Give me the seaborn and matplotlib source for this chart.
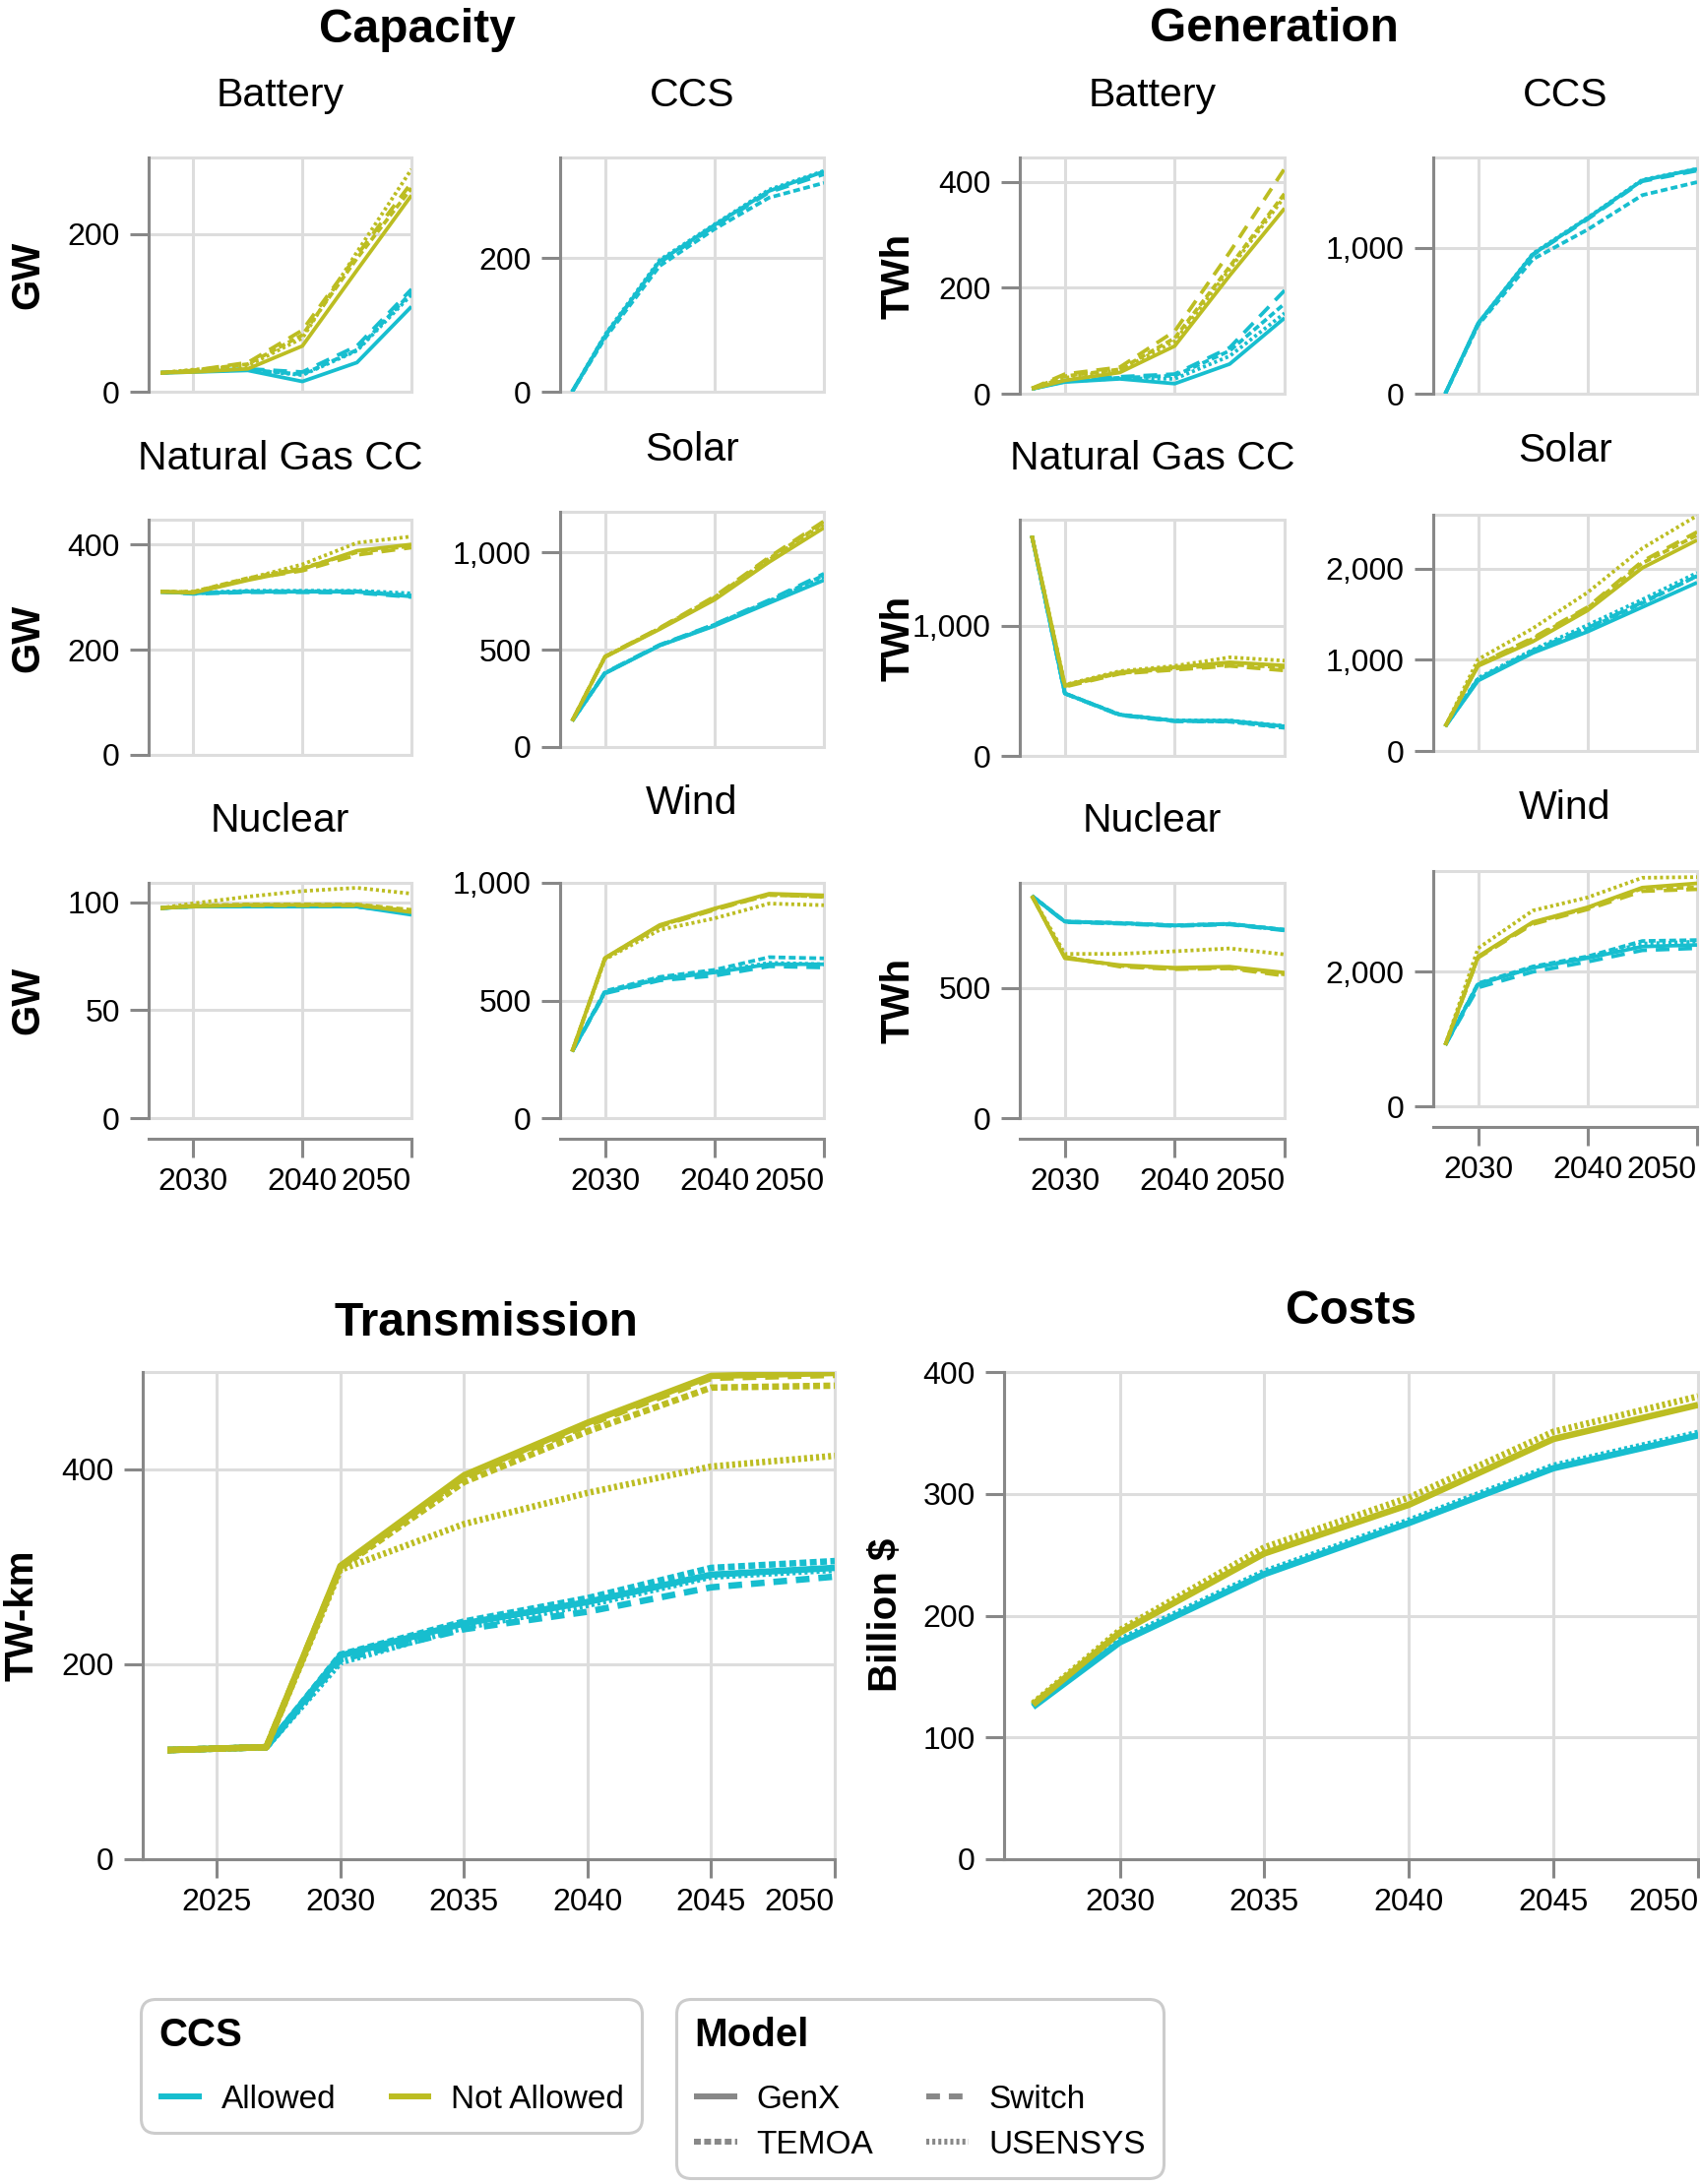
import matplotlib
matplotlib.use("Agg")
import matplotlib.pyplot as plt
import seaborn as sns
import pandas as pd
from matplotlib.lines import Line2D

# Years in the model results
years = [2027, 2030, 2035, 2040, 2045, 2050]
tx_years = [2023, 2027, 2030, 2035, 2040, 2045, 2050]

models = ["GenX", "Switch", "TEMOA", "USENSYS"]
ccs_levels = ["Allowed", "Not Allowed"]

# Capacity (GW)
cap_battery_allowed = {"GenX": [24, 25, 27, 13, 37, 108], "Switch": [24, 26, 29, 25, 58, 130],
                       "TEMOA": [24, 26, 28, 22, 53, 126], "USENSYS": [24, 26, 28, 21, 52, 123]}
cap_battery_not = {"GenX": [24, 25, 29, 58, 154, 249], "Switch": [24, 27, 37, 78, 173, 265],
                   "TEMOA": [24, 27, 35, 72, 169, 258], "USENSYS": [24, 28, 33, 68, 177, 282]}
cap_ccs_allowed = {"GenX": [0, 83, 195, 249, 300, 329], "Switch": [0, 84, 193, 247, 298, 325],
                   "TEMOA": [0, 80, 188, 243, 290, 312], "USENSYS": [0, 85, 197, 250, 302, 330]}
cap_ngcc_allowed = {"GenX": [310, 307, 310, 310, 310, 301], "Switch": [310, 306, 309, 309, 308, 300],
                    "TEMOA": [310, 307, 311, 311, 311, 303], "USENSYS": [310, 308, 312, 312, 312, 307]}
cap_ngcc_not = {"GenX": [310, 308, 332, 353, 388, 400], "Switch": [310, 309, 334, 350, 380, 394],
                "TEMOA": [310, 310, 336, 355, 385, 397], "USENSYS": [310, 310, 335, 362, 403, 415]}
cap_solar_allowed = {"GenX": [134, 378, 521, 622, 740, 857], "Switch": [134, 382, 525, 630, 755, 890],
                     "TEMOA": [134, 380, 523, 628, 750, 882], "USENSYS": [134, 380, 522, 625, 745, 874]}
cap_solar_not = {"GenX": [134, 462, 605, 756, 950, 1126], "Switch": [134, 465, 612, 773, 975, 1160],
                 "TEMOA": [134, 463, 610, 768, 968, 1151], "USENSYS": [134, 464, 608, 765, 962, 1143]}
cap_nuclear_allowed = {"GenX": [97.3, 98, 98, 98, 98, 94.2], "Switch": [97.3, 98, 98, 98, 98, 95],
                       "TEMOA": [97.3, 98, 98, 98, 98, 95.5], "USENSYS": [97.3, 98, 98, 98, 98, 95]}
cap_nuclear_not = {"GenX": [97.3, 98, 98.8, 98.8, 98.8, 95.4], "Switch": [97.3, 98.3, 98.5, 98.5, 98.5, 96],
                   "TEMOA": [97.3, 98.5, 99, 99, 99, 96.5], "USENSYS": [97.3, 99.5, 102.6, 105.2, 106.7, 104]}
cap_wind_allowed = {"GenX": [283, 535, 591, 619, 654, 654], "Switch": [283, 530, 585, 605, 645, 640],
                    "TEMOA": [283, 540, 600, 630, 684, 679], "USENSYS": [283, 535, 595, 622, 660, 654]}
cap_wind_not = {"GenX": [283, 681, 821, 891, 954, 947], "Switch": [283, 678, 815, 885, 950, 940],
                "TEMOA": [283, 680, 818, 888, 948, 942], "USENSYS": [283, 675, 800, 849, 912, 905]}

# Generation (TWh)
gen_battery_allowed = {"GenX": [9, 22, 28, 19, 56, 143], "Switch": [9, 25, 32, 37, 87, 195],
                       "TEMOA": [9, 24, 30, 34, 81, 170], "USENSYS": [9, 23, 29, 28, 71, 152]}
gen_battery_not = {"GenX": [9, 25, 40, 90, 223, 350], "Switch": [10, 37, 50, 118, 267, 425],
                   "TEMOA": [10, 33, 46, 105, 240, 378], "USENSYS": [10, 30, 44, 99, 235, 372]}
gen_ccs_allowed = {"GenX": [0, 483, 955, 1202, 1461, 1539], "Switch": [0, 478, 950, 1195, 1455, 1528],
                   "TEMOA": [0, 470, 921, 1124, 1360, 1449], "USENSYS": [0, 480, 960, 1205, 1465, 1540]}
gen_ngcc_allowed = {"GenX": [1688, 479, 315, 270, 270, 227], "Switch": [1688, 478, 312, 265, 265, 220],
                    "TEMOA": [1688, 480, 318, 268, 262, 215], "USENSYS": [1688, 479, 316, 272, 272, 230]}
gen_ngcc_not = {"GenX": [1688, 542, 642, 680, 718, 693], "Switch": [1688, 530, 630, 660, 690, 655],
                "TEMOA": [1688, 535, 635, 670, 700, 680], "USENSYS": [1688, 545, 650, 690, 756, 730]}
gen_solar_allowed = {"GenX": [269, 771, 1075, 1308, 1577, 1846], "Switch": [269, 790, 1100, 1350, 1630, 1918],
                     "TEMOA": [269, 785, 1095, 1340, 1620, 1918], "USENSYS": [269, 800, 1110, 1380, 1660, 1953]}
gen_solar_not = {"GenX": [269, 932, 1200, 1541, 2007, 2312], "Switch": [269, 950, 1240, 1577, 2080, 2401],
                 "TEMOA": [269, 945, 1230, 1565, 2060, 2366], "USENSYS": [269, 1004, 1344, 1738, 2222, 2580]}
gen_nuclear_allowed = {"GenX": [854, 755, 749, 740, 746, 723], "Switch": [854, 753, 747, 738, 744, 721],
                       "TEMOA": [854, 756, 750, 741, 747, 724], "USENSYS": [854, 755, 749, 740, 746, 723]}
gen_nuclear_not = {"GenX": [854, 614, 588, 578, 582, 559], "Switch": [854, 620, 582, 572, 575, 547],
                   "TEMOA": [854, 618, 585, 575, 578, 552], "USENSYS": [854, 631, 631, 641, 652, 629]}
gen_wind_allowed = {"GenX": [912, 1815, 2059, 2205, 2376, 2400], "Switch": [912, 1766, 2000, 2150, 2320, 2351],
                    "TEMOA": [912, 1830, 2080, 2230, 2459, 2473], "USENSYS": [912, 1820, 2065, 2215, 2420, 2449]}
gen_wind_not = {"GenX": [912, 2229, 2741, 2961, 3254, 3317], "Switch": [912, 2210, 2710, 2930, 3200, 3229],
                "TEMOA": [912, 2220, 2730, 2950, 3240, 3254], "USENSYS": [912, 2351, 2912, 3107, 3400, 3410]}

# Transmission (TW-km) and costs (billion $)
tx_allowed = {"GenX": [112, 115, 209, 242, 264, 292, 299], "Switch": [112, 115, 205, 236, 254, 279, 290],
              "TEMOA": [112, 115, 210, 244, 268, 299, 306], "USENSYS": [112, 115, 202, 238, 261, 290, 297]}
tx_not = {"GenX": [112, 115, 301, 394, 448, 496, 499], "Switch": [112, 115, 300, 392, 446, 494, 497],
          "TEMOA": [112, 115, 299, 387, 439, 484, 486], "USENSYS": [112, 115, 297, 344, 376, 403, 414]}
cost_allowed = {"GenX": [125, 178, 234, 276, 321, 348], "USENSYS": [126, 180, 236, 278, 323, 350]}
cost_not = {"GenX": [127, 186, 251, 291, 345, 373], "USENSYS": [128, 188, 256, 297, 351, 380]}

W, H = 1727, 2219
GRID = "#dddddd"
AXIS = "#888888"
palette = {"Allowed": "#17becf", "Not Allowed": "#bcbd22"}
dashes = {"GenX": "", "Switch": (10, 6.5), "TEMOA": (5, 2.5), "USENSYS": (2.2, 2.2)}

sns.set_theme(style="white")
plt.rcParams["font.family"] = ["Liberation Sans", "DejaVu Sans"]
plt.rcParams["text.color"] = "black"
plt.rcParams["lines.scale_dashes"] = False
plt.rcParams["lines.solid_capstyle"] = "butt"
plt.rcParams["lines.dash_capstyle"] = "butt"


def to_long(x, allowed, not_allowed=None):
    rows = []
    for ccs, block in [("Allowed", allowed), ("Not Allowed", not_allowed)]:
        if block is None:
            continue
        for model, vals in block.items():
            for yr, v in zip(x, vals):
                rows.append((yr, v, ccs, model))
    return pd.DataFrame(rows, columns=["Year", "Value", "CCS", "Model"])


fig = plt.figure(figsize=(W / 100, H / 100), dpi=100)
fig.patch.set_facecolor("white")


def add_panel(box):
    l, t, r, b = box
    return fig.add_axes([l / W, 1 - b / H, (r - l) / W, (b - t) / H])


def draw_lines(ax, df, lw):
    sns.lineplot(data=df, x="Year", y="Value", hue="CCS", style="Model",
                 hue_order=ccs_levels, style_order=models, palette=palette,
                 dashes=dashes, linewidth=lw, estimator=None, legend=False, ax=ax)


def style_axes(ax, xlim, xticks, ylim, yticks, show_x, offset=0):
    ax.set_xlim(*xlim)
    ax.set_ylim(*ylim)
    ax.set_xticks(xticks, [str(v) for v in xticks])
    ax.set_yticks(yticks, [f"{v:,}" for v in yticks])
    ax.set_xlabel("")
    ax.set_ylabel("")
    ax.grid(True, color=GRID, linewidth=2.2)
    ax.set_axisbelow(True)
    ax.patch.set_edgecolor(GRID)
    ax.patch.set_linewidth(2.2)
    ax.spines["top"].set_visible(False)
    ax.spines["right"].set_visible(False)
    ax.spines["left"].set_color(AXIS)
    ax.spines["left"].set_linewidth(2.2)
    ax.tick_params(axis="y", left=True, length=14, width=2.2, color=AXIS, pad=7,
                   labelsize=23, labelcolor="black", direction="out")
    if show_x:
        ax.spines["bottom"].set_color(AXIS)
        ax.spines["bottom"].set_linewidth(2.2)
        ax.spines["bottom"].set_position(("outward", offset))
        ax.tick_params(axis="x", bottom=True, length=14, width=2.2, color=AXIS, pad=7,
                       labelsize=23, labelcolor="black", direction="out")
        ax.get_xticklabels()[-1].set_horizontalalignment("right")
    else:
        ax.spines["bottom"].set_visible(False)
        ax.tick_params(axis="x", bottom=False, labelbottom=False)


# small multiples: (title, allowed, not allowed, box px, ymax, yticks, bottom row, title baseline)
small_panels = [
    ("Battery", cap_battery_allowed, cap_battery_not, (151, 160, 418, 398), 297, [0, 200], False, 108),
    ("CCS", cap_ccs_allowed, None, (569, 160, 837, 398), 350, [0, 200], False, 108),
    ("Natural Gas CC", cap_ngcc_allowed, cap_ngcc_not, (151, 528, 418, 767), 447, [0, 200, 400], False, 477),
    ("Solar", cap_solar_allowed, cap_solar_not, (569, 520, 837, 759), 1208, [0, 500, 1000], False, 468),
    ("Nuclear", cap_nuclear_allowed, cap_nuclear_not, (151, 897, 418, 1136), 109, [0, 50, 100], True, 845),
    ("Wind", cap_wind_allowed, cap_wind_not, (569, 897, 837, 1136), 1000, [0, 500, 1000], True, 827),
    ("Battery", gen_battery_allowed, gen_battery_not, (1036, 160, 1305, 400), 446, [0, 200, 400], False, 108),
    ("CCS", gen_ccs_allowed, None, (1456, 160, 1724, 400), 1618, [0, 1000], False, 108),
    ("Natural Gas CC", gen_ngcc_allowed, gen_ngcc_not, (1036, 528, 1305, 768), 1812, [0, 1000], False, 477),
    ("Solar", gen_solar_allowed, gen_solar_not, (1456, 523, 1724, 763), 2590, [0, 1000, 2000], False, 469),
    ("Nuclear", gen_nuclear_allowed, gen_nuclear_not, (1036, 897, 1305, 1136), 904, [0, 500], True, 845),
    ("Wind", gen_wind_allowed, gen_wind_not, (1456, 885, 1724, 1124), 3500, [0, 2000], True, 832),
]

for title, allowed, not_allowed, box, ymax, yticks, bottom, ty in small_panels:
    ax = add_panel(box)
    draw_lines(ax, to_long(years, allowed, not_allowed), 2.7)
    style_axes(ax, (2025.9, 2050), [2030, 2040, 2050], (0, ymax), yticks, bottom, offset=15)
    cx = (box[0] + box[2]) / 2
    fig.text(cx / W, 1 - ty / H, title, ha="center", va="baseline", fontsize=29.5)

# transmission and costs
ax_tx = add_panel((145, 1394, 848, 1889))
draw_lines(ax_tx, to_long(tx_years, tx_allowed, tx_not), 4.7)
style_axes(ax_tx, (2022, 2050), [2025, 2030, 2035, 2040, 2045, 2050], (0, 500), [0, 200, 400], True)

ax_cost = add_panel((1020, 1394, 1725, 1889))
draw_lines(ax_cost, to_long(years, cost_allowed, cost_not), 4.7)
style_axes(ax_cost, (2026, 2050), [2030, 2035, 2040, 2045, 2050], (0, 400), [0, 100, 200, 300, 400], True)

# group titles
for text, x, y in [("Capacity", 424, 43), ("Generation", 1294, 42),
                   ("Transmission", 494, 1357), ("Costs", 1372, 1345)]:
    fig.text(x / W, 1 - y / H, text, ha="center", va="baseline", fontsize=34.5, fontweight="bold")

# axis titles
for text, x, y in [("GW", 28, 279), ("GW", 28, 648), ("GW", 28, 1016),
                   ("TWh", 912, 280), ("TWh", 912, 648), ("TWh", 912, 1016),
                   ("TW-km", 22, 1641), ("Billion $", 900, 1641)]:
    fig.text(x / W, 1 - y / H, text, ha="center", va="center", rotation=90,
             fontsize=29, fontweight="bold")

# legends
ccs_handles = [Line2D([0], [0], color=palette[c], lw=4.3) for c in ccs_levels]
model_handles = [Line2D([0], [0], color=AXIS, lw=4.3,
                        linestyle="-" if dashes[m] == "" else (0, dashes[m])) for m in models]

legend_kw = dict(loc="upper left", ncol=2, fontsize=24, alignment="left",
                 title_fontproperties={"weight": "bold", "size": 29},
                 handlelength=1.3, handletextpad=0.6, columnspacing=1.6, labelspacing=0.45,
                 borderpad=0.55, frameon=True, fancybox=True, edgecolor="#cccccc",
                 framealpha=1, borderaxespad=0, labelcolor="black")

leg1 = fig.legend(ccs_handles, ccs_levels, title="CCS",
                  bbox_to_anchor=(143 / W, 1 - 2031 / H), **legend_kw)
leg2 = fig.legend([model_handles[0], model_handles[2], model_handles[1], model_handles[3]],
                  ["GenX", "TEMOA", "Switch", "USENSYS"], title="Model",
                  bbox_to_anchor=(687 / W, 1 - 2031 / H), **legend_kw)
for leg in (leg1, leg2):
    leg.get_frame().set_linewidth(2.2)
    leg.get_frame().set_boxstyle("round,pad=0,rounding_size=0.45")
    # a little more room between the legend title and its entries
    leg._legend_box.sep = 22

fig.savefig("out.png", dpi=100, facecolor="white")
